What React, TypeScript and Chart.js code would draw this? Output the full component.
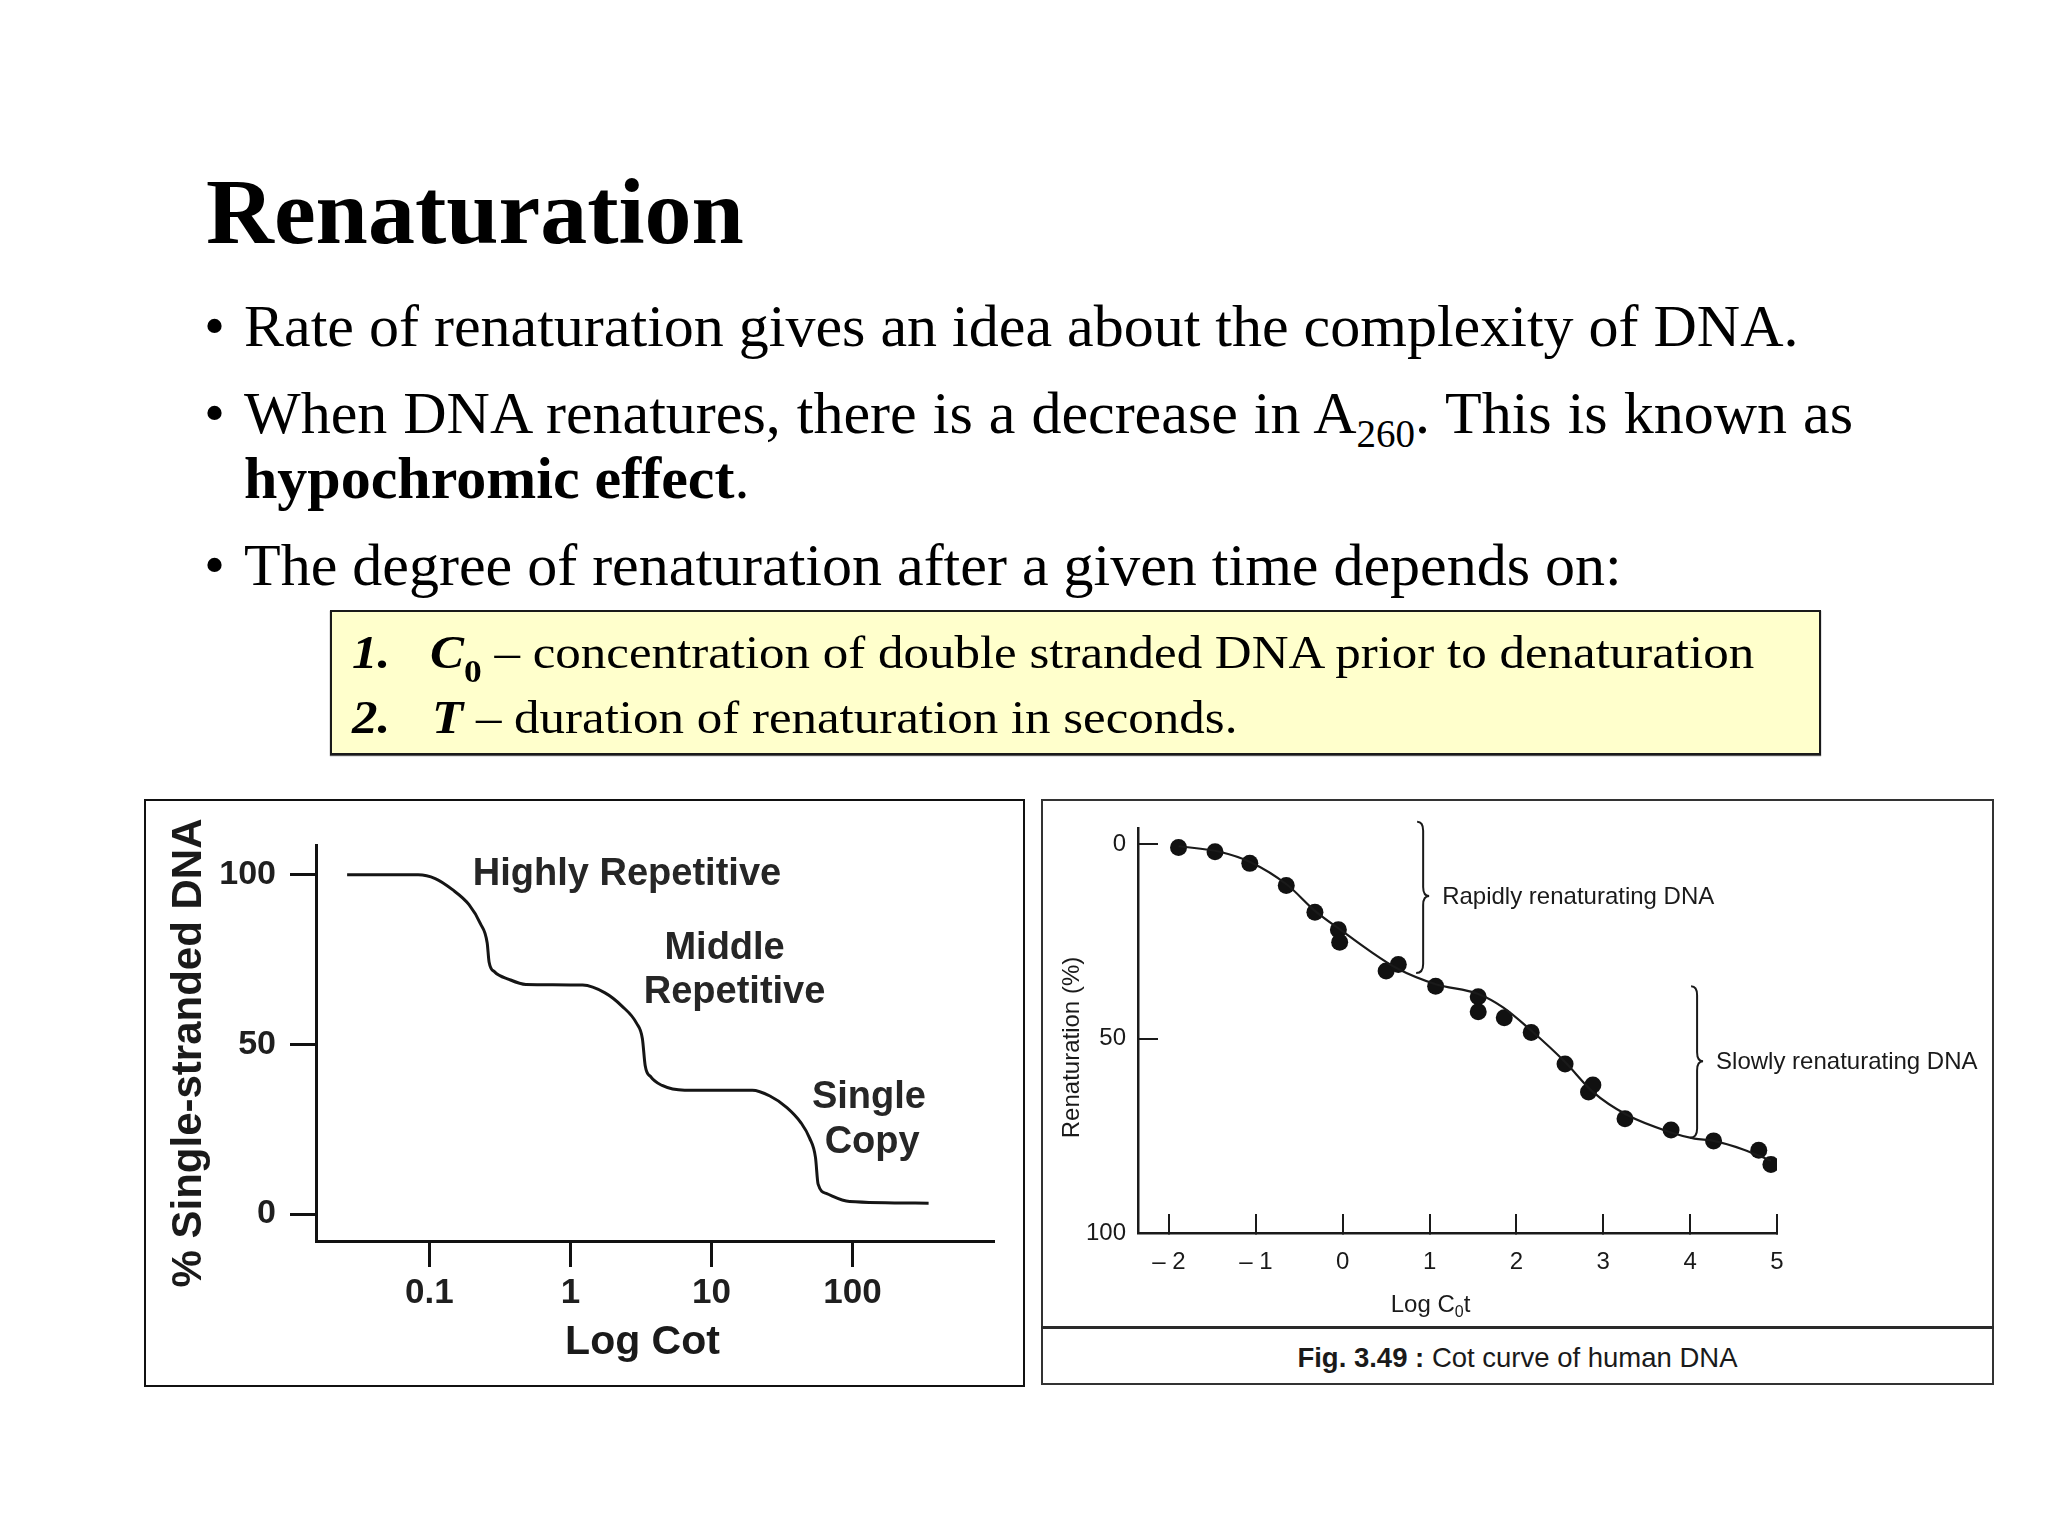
import React, { useEffect, useRef } from "react";
import { Chart, registerables } from "chart.js";

Chart.register(...registerables);

// ---------- Left chart data (C0t curve, schematic) ----------
const cotTickValues = [0.1, 1, 10, 100];
const cotTickLabels = ["0.1", "1", "10", "100"];
const ssTickValues = [0, 50, 100];
const ssTickLabels = ["0", "50", "100"];
const curveCot = [0.0261, 0.0832, 0.11, 0.145, 0.191, 0.23, 0.257, 0.265, 0.29, 0.366, 0.484, 1.22, 1.76, 2.32, 2.95, 3.24, 3.39, 3.72, 4.47, 6.46, 19.5, 26.0, 34.3, 43.2, 49.8, 54.7, 57.1, 65.8, 95.5, 347];
const curveSS = [100, 100, 98.9, 95.7, 91.2, 85.6, 79.9, 74.3, 71.4, 69.2, 67.7, 67.5, 65.2, 61.3, 56.2, 51.7, 43.8, 40.4, 37.9, 36.5, 36.5, 34.8, 31.4, 26.9, 22.3, 16.7, 8.8, 6.0, 3.7, 3.2];
const regionLabels = ["Highly Repetitive", "Middle", "Repetitive", "Single", "Copy"];
const regionCot = [2.52, 12.4, 14.6, 131, 138];
const regionSS = [100, 78.2, 65.2, 34.2, 21.2];
const leftXTitle = "Log Cot";
const leftYTitle = "% Single-stranded DNA";

// ---------- Right chart data (Cot curve of human DNA) ----------
const logC0tTicks = [-2, -1, 0, 1, 2, 3, 4, 5];
const logC0tTickLabels = ["\u2013 2", "\u2013 1", "0", "1", "2", "3", "4", "5"];
const renatTicks = [0, 50, 100];
const renatTickLabels = ["0", "50", "100"];
const pointsLogC0t = [-1.89, -1.47, -1.07, -0.65, -0.32, -0.05, -0.035, 0.5, 0.64, 1.07, 1.56, 1.56, 1.86, 2.17, 2.56, 2.83, 2.88, 3.25, 3.78, 4.27, 4.79, 4.93];
const pointsRenat = [0.8, 1.9, 4.9, 10.6, 17.5, 22, 25.2, 32.6, 30.9, 36.5, 39.2, 43.1, 44.6, 48.4, 56.5, 63.7, 61.9, 70.6, 73.5, 76.3, 78.7, 82.4];
const fitLogC0t = [-1.89, -1.42, -1.06, -0.64, -0.32, 0, 0.29, 0.64, 1.07, 1.56, 1.85, 2.17, 2.56, 2.88, 3.27, 3.76, 4.05, 4.27, 4.61, 4.93];
const fitRenat = [0.5, 1.9, 4.6, 10.4, 17.1, 22.4, 27.1, 32.1, 36, 38.5, 42, 47.9, 56, 63.7, 69.6, 74, 75.7, 76.3, 78.5, 81.4];
const braceLabels = ["Rapidly renaturating DNA", "Slowly renaturating DNA"];
const braceLogC0t = [0.926, 4.08];
const braceFrom = [-5.8, 36.5];
const braceTo = [33.1, 75.5];
const braceTip = [13.3, 55.8];
const rightXTitle = ["Log C", "0", "t"];
const rightYTitle = "Renaturation (%)";
const captionBold = "Fig. 3.49 :";
const captionText = " Cot curve of human DNA";

const SERIF = '"Liberation Serif", "Times New Roman", Times, serif';
const SANS = '"Liberation Sans", Arial, Helvetica, sans-serif';

function LeftChart() {
  const ref = useRef<HTMLCanvasElement>(null);
  useEffect(() => {
    if (!ref.current) return;
    const labelsPlugin = {
      id: "leftLabels",
      afterDraw(chart: any) {
        const { ctx, chartArea, scales } = chart;
        const x = scales.x, y = scales.y;
        ctx.save();
        ctx.fillStyle = "#262626";
        ctx.font = `bold 38px ${SANS}`;
        ctx.textAlign = "center";
        ctx.textBaseline = "middle";
        regionLabels.forEach((t, i) => {
          ctx.fillText(t, x.getPixelForValue(regionCot[i]), y.getPixelForValue(regionSS[i]));
        });
        // axis titles
        ctx.fillStyle = "#1a1a1a";
        ctx.font = `bold 41px ${SANS}`;
        ctx.fillText(leftXTitle, (chartArea.left + chartArea.right) / 2 - 12, chartArea.bottom + 102);
        ctx.translate(chartArea.left - 127, (chartArea.top + chartArea.bottom) / 2 + 10);
        ctx.rotate(-Math.PI / 2);
        ctx.font = `bold 42px ${SANS}`;
        ctx.fillText(leftYTitle, 0, 0);
        ctx.restore();
      },
    };
    const chart = new Chart(ref.current, {
      type: "line",
      data: {
        datasets: [
          {
            data: curveCot.map((c, i) => ({ x: c, y: curveSS[i] })),
            borderColor: "#151515",
            borderWidth: 3,
            pointRadius: 0,
            cubicInterpolationMode: "monotone",
            fill: false,
          },
        ],
      },
      options: {
        animation: false,
        responsive: false,
        devicePixelRatio: 1,
        layout: { padding: { top: 46, right: 32, bottom: 0, left: 0 } },
        plugins: { legend: { display: false }, tooltip: { enabled: false } },
        scales: {
          x: {
            type: "logarithmic",
            min: 0.0157,
            max: 993,
            afterBuildTicks: (s: any) => {
              s.ticks = cotTickValues.map((v) => ({ value: v }));
            },
            afterFit: (s: any) => {
              s.height = 146;
              s.paddingLeft = 0;
              s.paddingRight = 0;
            },
            ticks: {
              autoSkip: false,
              maxRotation: 0,
              padding: 5,
              color: "#1f1f1f",
              font: { family: SANS, size: 35, weight: "bold" },
              callback: (_v: any, i: number) => cotTickLabels[i],
            },
            grid: { drawOnChartArea: false, drawTicks: true, tickLength: 26, color: "#111", lineWidth: 3 },
            border: { display: true, color: "#111", width: 3 },
          },
          y: {
            type: "linear",
            min: -7.96,
            max: 108.8,
            afterBuildTicks: (s: any) => {
              s.ticks = ssTickValues.map((v) => ({ value: v }));
            },
            afterFit: (s: any) => {
              s.width = 172;
              s.paddingTop = 0;
              s.paddingBottom = 0;
            },
            ticks: {
              autoSkip: false,
              padding: 14,
              color: "#1f1f1f",
              font: { family: SANS, size: 34, weight: "bold" },
              callback: (_v: any, i: number) => ssTickLabels[i],
            },
            grid: { drawOnChartArea: false, drawTicks: true, tickLength: 26, color: "#111", lineWidth: 3 },
            border: { display: true, color: "#111", width: 3 },
          },
        },
      } as any,
      plugins: [labelsPlugin],
    });
    return () => chart.destroy();
  }, []);
  return (
    <canvas
      ref={ref}
      width={881}
      height={588}
      style={{ position: "absolute", left: 144, top: 799, width: 881, height: 588 }}
    />
  );
}

function RightChart() {
  const ref = useRef<HTMLCanvasElement>(null);
  useEffect(() => {
    if (!ref.current) return;
    const bracePlugin = {
      id: "braces",
      afterDraw(chart: any) {
        const { ctx, chartArea, scales } = chart;
        const x = scales.x, y = scales.y;
        ctx.save();
        ctx.strokeStyle = "#1a1a1a";
        ctx.fillStyle = "#1a1a1a";
        ctx.lineWidth = 2;
        braceLabels.forEach((label, i) => {
          const bx = x.getPixelForValue(braceLogC0t[i]);
          const y1 = y.getPixelForValue(braceFrom[i]);
          const y2 = y.getPixelForValue(braceTo[i]);
          const ym = y.getPixelForValue(braceTip[i]);
          const r = 9;
          ctx.beginPath();
          ctx.moveTo(bx - 6, y1);
          ctx.quadraticCurveTo(bx, y1, bx, y1 + r);
          ctx.lineTo(bx, ym - r);
          ctx.quadraticCurveTo(bx, ym, bx + 6, ym);
          ctx.quadraticCurveTo(bx, ym, bx, ym + r);
          ctx.lineTo(bx, y2 - r);
          ctx.quadraticCurveTo(bx, y2, bx - 7, y2);
          ctx.stroke();
          ctx.font = `24px ${SANS}`;
          ctx.textBaseline = "middle";
          ctx.textAlign = "left";
          ctx.fillText(label, bx + 19, ym + 1);
        });
        // x axis title: Log C0t
        ctx.textBaseline = "alphabetic";
        ctx.textAlign = "left";
        const big = `24px ${SANS}`;
        const small = `16px ${SANS}`;
        ctx.font = big;
        const w0 = ctx.measureText(rightXTitle[0]).width;
        const w2 = ctx.measureText(rightXTitle[2]).width;
        ctx.font = small;
        const w1 = ctx.measureText(rightXTitle[1]).width;
        const total = w0 + w1 + w2;
        const cx = x.getPixelForValue(1) + 1;
        const base = chartArea.bottom + 79;
        let px = cx - total / 2;
        ctx.font = big;
        ctx.fillText(rightXTitle[0], px, base);
        px += w0;
        ctx.font = small;
        ctx.fillText(rightXTitle[1], px, base + 5);
        px += w1;
        ctx.font = big;
        ctx.fillText(rightXTitle[2], px, base);
        // y axis title
        ctx.textBaseline = "middle";
        ctx.textAlign = "center";
        ctx.font = `24px ${SANS}`;
        ctx.translate(chartArea.left - 66, (chartArea.top + chartArea.bottom) / 2 + 17);
        ctx.rotate(-Math.PI / 2);
        ctx.fillText(rightYTitle, 0, 0);
        ctx.restore();
      },
    };
    const chart = new Chart(ref.current, {
      type: "line",
      data: {
        datasets: [
          {
            data: fitLogC0t.map((v, i) => ({ x: v, y: fitRenat[i] })),
            borderColor: "#1a1a1a",
            borderWidth: 2.2,
            pointRadius: 0,
            cubicInterpolationMode: "monotone",
            fill: false,
          },
          {
            data: pointsLogC0t.map((v, i) => ({ x: v, y: pointsRenat[i] })),
            showLine: false,
            pointRadius: 8.5,
            pointBackgroundColor: "#111",
            pointBorderColor: "#111",
            pointBorderWidth: 0,
          },
        ],
      },
      options: {
        animation: false,
        responsive: false,
        devicePixelRatio: 1,
        layout: { padding: { top: 29, right: 217, bottom: 0, left: 0 } },
        plugins: { legend: { display: false }, tooltip: { enabled: false } },
        scales: {
          x: {
            type: "linear",
            min: -2.357,
            max: 5,
            afterBuildTicks: (s: any) => {
              s.ticks = logC0tTicks.map((v) => ({ value: v }));
            },
            afterFit: (s: any) => {
              s.height = 95;
              s.paddingLeft = 0;
              s.paddingRight = 0;
            },
            ticks: {
              autoSkip: false,
              maxRotation: 0,
              padding: 34,
              color: "#1a1a1a",
              font: { family: SANS, size: 24 },
              callback: (_v: any, i: number) => logC0tTickLabels[i],
            },
            grid: { drawOnChartArea: false, drawTicks: true, tickLength: -19, color: "#1a1a1a", lineWidth: 2 },
            border: { display: true, color: "#1a1a1a", width: 2.5 },
          },
          y: {
            type: "linear",
            reverse: true,
            min: -4.2,
            max: 100,
            afterBuildTicks: (s: any) => {
              s.ticks = renatTicks.map((v) => ({ value: v }));
            },
            afterFit: (s: any) => {
              s.width = 97;
              s.paddingTop = 0;
              s.paddingBottom = 0;
            },
            ticks: {
              autoSkip: false,
              padding: 32,
              color: "#1a1a1a",
              font: { family: SANS, size: 24 },
              callback: (_v: any, i: number) => renatTickLabels[i],
            },
            grid: {
              drawOnChartArea: false,
              drawTicks: true,
              tickLength: -20,
              lineWidth: 2,
              color: (c: any) => (c.tick && c.tick.value === 100 ? "rgba(0,0,0,0)" : "#1a1a1a"),
            },
            border: { display: true, color: "#1a1a1a", width: 2.5 },
          },
        },
      } as any,
      plugins: [bracePlugin],
    });
    return () => chart.destroy();
  }, []);
  return (
    <canvas
      ref={ref}
      width={953}
      height={529}
      style={{ position: "absolute", left: 1041, top: 799, width: 953, height: 529 }}
    />
  );
}

export default function App() {
  const line = (top: number, left: number, size: number, extra: any = {}) => ({
    position: "absolute" as const,
    top,
    left,
    fontFamily: SERIF,
    fontSize: size,
    lineHeight: `${size}px`,
    whiteSpace: "nowrap" as const,
    color: "#000",
    ...extra,
  });
  const boxStretch = { transform: "scaleX(1.108)", transformOrigin: "0 0" };
  const B = 60; // bullet font size
  const bt = (baseline: number) => Math.round(baseline - 0.8375 * B);
  return (
    <div
      style={{
        position: "absolute",
        left: 0,
        top: 0,
        width: 2048,
        height: 1536,
        background: "#fff",
        overflow: "hidden",
      }}
    >
      {/* Title */}
      <div style={line(164, 206, 94, { fontWeight: "bold" })}>Renaturation</div>

      {/* Bullets */}
      <div style={line(bt(346.5), 204, B)}>•</div>
      <div style={line(bt(346.5), 244, B)}>Rate of renaturation gives an idea about the complexity of DNA.</div>

      <div style={line(bt(433), 204, B)}>•</div>
      <div style={line(bt(433), 244, B, { wordSpacing: "1px" })}>
        When DNA renatures, there is a decrease in A
        <span style={{ fontSize: 39, position: "relative", top: 14 }}>260</span>. This is known as
      </div>
      <div style={line(bt(498), 244, B)}>
        <b>hypochromic effect</b>.
      </div>

      <div style={line(bt(585), 204, B)}>•</div>
      <div style={line(bt(585), 244, B)}>The degree of renaturation after a given time depends on:</div>

      {/* Yellow box */}
      <div
        style={{
          position: "absolute",
          left: 330,
          top: 610,
          width: 1491,
          height: 145,
          boxSizing: "border-box",
          background: "#FFFFCC",
          border: "2px solid #1a1a1a",
          boxShadow: "0 1px 1px #555",
        }}
      />
      <div style={line(630, 352, 46, { fontWeight: "bold", fontStyle: "italic", ...boxStretch })}>1.</div>
      <div style={line(630, 430, 46, boxStretch)}>
        <b>
          <i>C</i>
          <span style={{ fontSize: 32, position: "relative", top: 14 }}>0</span>
        </b>{" "}
        – concentration of double stranded DNA prior to denaturation
      </div>
      <div style={line(695, 352, 46, { fontWeight: "bold", fontStyle: "italic", ...boxStretch })}>2.</div>
      <div style={line(695, 432, 46, boxStretch)}>
        <b>
          <i>T</i>
        </b>{" "}
        – duration of renaturation in seconds.
      </div>

      {/* Left figure */}
      <div
        style={{
          position: "absolute",
          left: 144,
          top: 799,
          width: 881,
          height: 588,
          boxSizing: "border-box",
          border: "2px solid #111",
        }}
      />
      <LeftChart />

      {/* Right figure */}
      <div
        style={{
          position: "absolute",
          left: 1041,
          top: 799,
          width: 953,
          height: 586,
          boxSizing: "border-box",
          border: "2px solid #333",
        }}
      />
      <div style={{ position: "absolute", left: 1041, top: 1326, width: 953, height: 3, background: "#2a2a2a" }} />
      <RightChart />
      <div
        style={{
          position: "absolute",
          left: 1041,
          top: 1340,
          width: 953,
          textAlign: "center",
          fontFamily: SANS,
          fontSize: 27.5,
          lineHeight: "36px",
          color: "#1a1a1a",
          whiteSpace: "nowrap",
        }}
      >
        <b>{captionBold}</b>
        {captionText}
      </div>
    </div>
  );
}
